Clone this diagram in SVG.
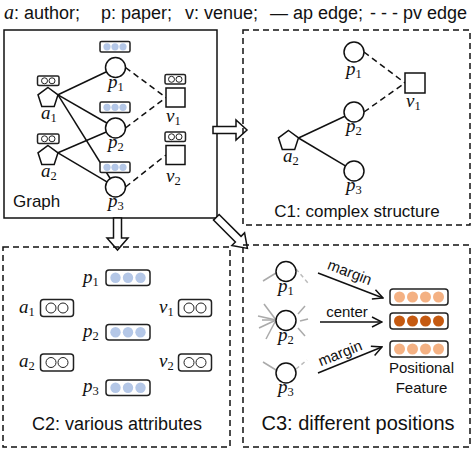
<svg xmlns="http://www.w3.org/2000/svg" xmlns:xlink="http://www.w3.org/1999/xlink" width="474" height="450" viewBox="0 0 474 450">
<style>
.t{font-family:"Liberation Sans",Arial,sans-serif;fill:#111}
.lbl{font-family:"Liberation Serif","DejaVu Serif",serif;font-style:italic;font-size:19px;fill:#111}
.sub{font-style:normal;font-size:12.5px}
.node{fill:#fff;stroke:#111;stroke-width:1.5}
.solid{stroke:#111;stroke-width:1.5;fill:none}
.dash{stroke:#111;stroke-width:1.5;fill:none;stroke-dasharray:6,4}
.box{fill:none;stroke:#111;stroke-width:1.5;stroke-dasharray:6,4}
.attr{fill:#fff;stroke:#222;stroke-width:1.5}
.blue{fill:#B4C7E7}
.hol{fill:#fff;stroke:#222;stroke-width:1}
.lt{fill:#F4B183}
.dk{fill:#C55A11}
.gray{stroke:#aaa;stroke-width:1.5;fill:none}
.gdash{stroke:#bbb;stroke-width:1.5;fill:none;stroke-dasharray:4,3}
.blk{fill:#fff;stroke:#111;stroke-width:1.5}
</style>
<defs>
<polygon id="pent" points="0,-10.5 10,-3.2 6.2,8.5 -6.2,8.5 -10,-3.2" class="node"/>
<marker id="open" viewBox="0 0 12 12" refX="11" refY="6" markerWidth="12" markerHeight="12" markerUnits="userSpaceOnUse" orient="auto">
<path d="M1,1 L11,6 L1,11" fill="none" stroke="#111" stroke-width="1.5"/>
</marker>
</defs>

<!-- legend -->
<g id="legend">
<text class="lbl" x="4" y="19" style="font-size:20px">a</text>
<text class="t" x="14" y="19" font-size="18">: author;</text>
<text class="t" x="101" y="19" font-size="18">p: paper;</text>
<text class="t" x="185" y="19" font-size="18">v: venue;</text>
<text class="t" x="270" y="19" font-size="18">— ap edge;</text>
<text class="t" x="370" y="19" font-size="18">- - - pv edge</text>
</g>

<!-- Graph panel -->
<g id="graph">
<rect x="4" y="30" width="213" height="188" fill="none" stroke="#111" stroke-width="1.5"/>
<text class="t" x="13" y="207" font-size="17">Graph</text>
</g>
<g id="graph-edges">
<line class="solid" x1="58" y1="94.8" x2="106.5" y2="71.8"/>
<line class="solid" x1="58" y1="94.8" x2="106.8" y2="123"/>
<line class="solid" x1="58" y1="94.8" x2="110.2" y2="178.5"/>
<line class="solid" x1="58" y1="152.8" x2="106.3" y2="132"/>
<line class="solid" x1="58" y1="152.8" x2="106.9" y2="181.9"/>
<line class="dash" x1="125.5" y1="67.5" x2="166" y2="97.5"/>
<line class="dash" x1="125.5" y1="128" x2="166" y2="97.5"/>
<line class="dash" x1="125.5" y1="187" x2="166" y2="155"/>
</g>
<g id="g-a1">
<use xlink:href="#pent" x="48" y="98"/>
<rect class="attr" x="37.5" y="76" width="21.5" height="9.5" rx="1.5"/>
<circle class="hol" cx="44.5" cy="80.8" r="3"/><circle class="hol" cx="52" cy="80.8" r="3"/>
<text class="lbl" x="41" y="119">a<tspan class="sub" dy="3">1</tspan></text>
</g>
<g id="g-a2">
<use xlink:href="#pent" x="48" y="156"/>
<rect class="attr" x="37.5" y="134" width="21.5" height="9.5" rx="1.5"/>
<circle class="hol" cx="44.5" cy="138.8" r="3"/><circle class="hol" cx="52" cy="138.8" r="3"/>
<text class="lbl" x="41" y="177">a<tspan class="sub" dy="3">2</tspan></text>
</g>
<g id="g-p1">
<circle class="node" cx="115.5" cy="67.5" r="10"/>
<rect class="attr" x="100" y="41.5" width="30" height="10.5" rx="1.5"/>
<circle class="blue" cx="107" cy="46.8" r="3.6"/><circle class="blue" cx="115" cy="46.8" r="3.6"/><circle class="blue" cx="123" cy="46.8" r="3.6"/>
<text class="lbl" x="108" y="88">p<tspan class="sub" dy="3">1</tspan></text>
</g>
<g id="g-p2">
<circle class="node" cx="115.5" cy="128" r="10"/>
<rect class="attr" x="100" y="102" width="30" height="10.5" rx="1.5"/>
<circle class="blue" cx="107" cy="107.3" r="3.6"/><circle class="blue" cx="115" cy="107.3" r="3.6"/><circle class="blue" cx="123" cy="107.3" r="3.6"/>
<text class="lbl" x="108" y="148">p<tspan class="sub" dy="3">2</tspan></text>
</g>
<g id="g-p3">
<circle class="node" cx="115.5" cy="187" r="10"/>
<rect class="attr" x="100" y="162" width="30" height="10.5" rx="1.5"/>
<circle class="blue" cx="107" cy="167.3" r="3.6"/><circle class="blue" cx="115" cy="167.3" r="3.6"/><circle class="blue" cx="123" cy="167.3" r="3.6"/>
<text class="lbl" x="108" y="207">p<tspan class="sub" dy="3">3</tspan></text>
</g>
<g id="g-v1">
<rect class="node" x="166" y="88" width="19" height="19"/>
<rect class="attr" x="165" y="74.5" width="20.5" height="9.5" rx="1.5"/>
<circle class="hol" cx="171.5" cy="79.3" r="3"/><circle class="hol" cx="179" cy="79.3" r="3"/>
<text class="lbl" x="166" y="122">v<tspan class="sub" dy="3">1</tspan></text>
</g>
<g id="g-v2">
<rect class="node" x="166" y="145.5" width="19" height="19"/>
<rect class="attr" x="165" y="132" width="20.5" height="9.5" rx="1.5"/>
<circle class="hol" cx="171.5" cy="136.8" r="3"/><circle class="hol" cx="179" cy="136.8" r="3"/>
<text class="lbl" x="166" y="182">v<tspan class="sub" dy="3">2</tspan></text>
</g>

<!-- block arrows -->
<g id="arrows">
<polygon class="blk" points="213,126.5 236,126.5 236,120 247,130 236,140 236,133.5 213,133.5"/>
<polygon class="blk" points="113.5,218 113.5,238 107,238 117.5,250 128,238 121.5,238 121.5,218"/>
<polygon class="blk" transform="translate(217,218) rotate(45)" points="-1,-4 30,-4 30,-9 43,0 30,9 30,4 -1,4"/>
</g>

<!-- C1 -->
<g id="c1">
<rect class="box" x="243" y="30" width="227" height="195"/>
<text class="t" x="357" y="217" font-size="17" text-anchor="middle">C1: complex structure</text>
</g>
<g id="c1-edges">
<line class="solid" x1="298.5" y1="138" x2="344.9" y2="116.2"/>
<line class="solid" x1="298.5" y1="138" x2="345.4" y2="165.9"/>
<line class="dash" x1="364" y1="52" x2="405" y2="83"/>
<line class="dash" x1="364" y1="112" x2="405" y2="83"/>
</g>
<g id="c1-p1"><circle class="node" cx="354" cy="52" r="10"/><text class="lbl" x="346" y="75">p<tspan class="sub" dy="3">1</tspan></text></g>
<g id="c1-p2"><circle class="node" cx="354" cy="112" r="10"/><text class="lbl" x="346" y="132">p<tspan class="sub" dy="3">2</tspan></text></g>
<g id="c1-p3"><circle class="node" cx="354" cy="171" r="10"/><text class="lbl" x="346" y="191">p<tspan class="sub" dy="3">3</tspan></text></g>
<g id="c1-v1"><rect class="node" x="405" y="73" width="20" height="20"/><text class="lbl" x="406" y="107">v<tspan class="sub" dy="3">1</tspan></text></g>
<g id="c1-a2"><use xlink:href="#pent" x="288.5" y="141"/><text class="lbl" x="283" y="162">a<tspan class="sub" dy="3">2</tspan></text></g>

<!-- C2 -->
<g id="c2">
<rect class="box" x="3" y="247" width="227" height="200"/>
<text class="t" x="117" y="430" font-size="18" text-anchor="middle">C2: various attributes</text>
</g>
<g id="c2-p1">
<text class="lbl" x="83" y="283">p<tspan class="sub" dy="3">1</tspan></text>
<rect class="attr" x="106" y="270" width="44" height="15.5" rx="3"/>
<circle class="blue" cx="115.5" cy="277.8" r="5.2"/><circle class="blue" cx="128" cy="277.8" r="5.2"/><circle class="blue" cx="140.5" cy="277.8" r="5.2"/>
</g>
<g id="c2-p2">
<text class="lbl" x="83" y="337">p<tspan class="sub" dy="3">2</tspan></text>
<rect class="attr" x="106" y="324.5" width="44" height="15.5" rx="3"/>
<circle class="blue" cx="115.5" cy="332.3" r="5.2"/><circle class="blue" cx="128" cy="332.3" r="5.2"/><circle class="blue" cx="140.5" cy="332.3" r="5.2"/>
</g>
<g id="c2-p3">
<text class="lbl" x="83" y="392">p<tspan class="sub" dy="3">3</tspan></text>
<rect class="attr" x="106" y="380" width="44" height="15.5" rx="3"/>
<circle class="blue" cx="115.5" cy="387.8" r="5.2"/><circle class="blue" cx="128" cy="387.8" r="5.2"/><circle class="blue" cx="140.5" cy="387.8" r="5.2"/>
</g>
<g id="c2-a1">
<text class="lbl" x="19" y="313">a<tspan class="sub" dy="3">1</tspan></text>
<rect class="attr" x="40.5" y="299.5" width="33" height="17" rx="3"/>
<circle class="hol" cx="51" cy="308" r="5"/><circle class="hol" cx="63" cy="308" r="5"/>
</g>
<g id="c2-a2">
<text class="lbl" x="19" y="367">a<tspan class="sub" dy="3">2</tspan></text>
<rect class="attr" x="40.5" y="354" width="33" height="17" rx="3"/>
<circle class="hol" cx="51" cy="362.5" r="5"/><circle class="hol" cx="63" cy="362.5" r="5"/>
</g>
<g id="c2-v1">
<text class="lbl" x="159" y="313">v<tspan class="sub" dy="3">1</tspan></text>
<rect class="attr" x="178.5" y="299.5" width="33" height="17" rx="3"/>
<circle class="hol" cx="189" cy="308" r="5"/><circle class="hol" cx="201" cy="308" r="5"/>
</g>
<g id="c2-v2">
<text class="lbl" x="159" y="367">v<tspan class="sub" dy="3">2</tspan></text>
<rect class="attr" x="178.5" y="354" width="33" height="17" rx="3"/>
<circle class="hol" cx="189" cy="362.5" r="5"/><circle class="hol" cx="201" cy="362.5" r="5"/>
</g>

<!-- C3 -->
<g id="c3">
<rect class="box" x="243" y="245" width="227" height="202"/>
<text class="t" x="358" y="430" font-size="20" text-anchor="middle">C3: different positions</text>
<text class="t" x="421.5" y="373" font-size="15" text-anchor="middle">Positional</text>
<text class="t" x="421.5" y="393" font-size="15" text-anchor="middle">Feature</text>
</g>
<g id="c3-ctx">
<line class="gray" x1="263" y1="281" x2="276" y2="273"/>
<line class="gdash" x1="296" y1="269" x2="308" y2="283"/>
<line class="gray" x1="264" y1="304" x2="276" y2="320"/>
<line class="gray" x1="258" y1="316" x2="276" y2="320"/>
<line class="gray" x1="259" y1="328" x2="276" y2="320"/>
<line class="gray" x1="266" y1="339" x2="276" y2="320"/>
<line class="gray" x1="262" y1="320" x2="276" y2="320"/>
<line class="gray" x1="298" y1="314" x2="305" y2="306"/>
<line class="gray" x1="300" y1="321" x2="308" y2="319"/>
<line class="gray" x1="298" y1="328" x2="305" y2="336"/>
<line class="gray" x1="263" y1="362" x2="276" y2="370"/>
<line class="gdash" x1="296" y1="369" x2="307" y2="360"/>
</g>
<g id="c3-p1"><circle class="node" cx="286" cy="271.5" r="10"/><text class="lbl" x="278" y="292">p<tspan class="sub" dy="3">1</tspan></text></g>
<g id="c3-p2"><circle class="node" cx="286" cy="320.5" r="10"/><text class="lbl" x="278" y="341">p<tspan class="sub" dy="3">2</tspan></text></g>
<g id="c3-p3"><circle class="node" cx="286" cy="373" r="10"/><text class="lbl" x="278" y="393">p<tspan class="sub" dy="3">3</tspan></text></g>
<g id="c3-edges">
<line class="solid" x1="318" y1="273" x2="383" y2="298" marker-end="url(#open)"/>
<line class="solid" x1="320" y1="322" x2="382" y2="322" marker-end="url(#open)"/>
<line class="solid" x1="318" y1="373" x2="382" y2="347" marker-end="url(#open)"/>
<text class="t" x="348" y="277" font-size="15" text-anchor="middle" transform="rotate(21 348 277)">margin</text>
<text class="t" x="347" y="317" font-size="15" text-anchor="middle">center</text>
<text class="t" x="342" y="358" font-size="15" text-anchor="middle" transform="rotate(-22 342 358)">margin</text>
</g>
<g id="c3-f1">
<rect class="attr" x="390" y="289" width="58" height="16" rx="3"/>
<circle class="lt" cx="399.5" cy="297" r="5.5"/><circle class="lt" cx="412.5" cy="297" r="5.5"/><circle class="lt" cx="425.5" cy="297" r="5.5"/><circle class="lt" cx="438.5" cy="297" r="5.5"/>
</g>
<g id="c3-f2">
<rect class="attr" x="390" y="313" width="58" height="16" rx="3"/>
<circle class="dk" cx="399.5" cy="321" r="5.5"/><circle class="dk" cx="412.5" cy="321" r="5.5"/><circle class="dk" cx="425.5" cy="321" r="5.5"/><circle class="dk" cx="438.5" cy="321" r="5.5"/>
</g>
<g id="c3-f3">
<rect class="attr" x="390" y="341" width="58" height="16" rx="3"/>
<circle class="lt" cx="399.5" cy="349" r="5.5"/><circle class="lt" cx="412.5" cy="349" r="5.5"/><circle class="lt" cx="425.5" cy="349" r="5.5"/><circle class="lt" cx="438.5" cy="349" r="5.5"/>
</g>
</svg>
